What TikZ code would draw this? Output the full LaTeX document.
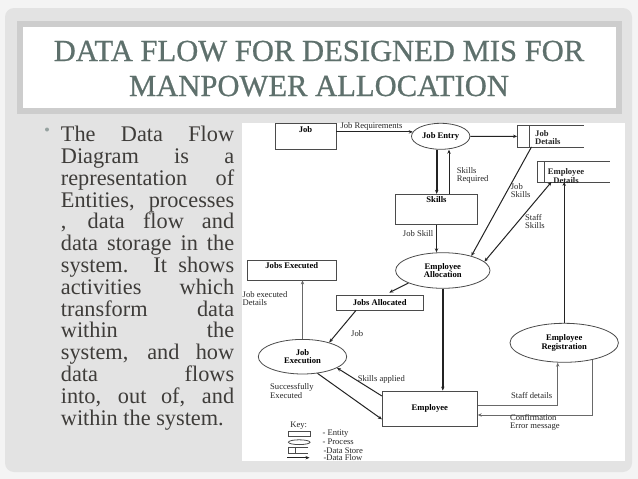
\documentclass[tikz,border=0pt]{standalone}
\usepackage{fontspec}
\setmainfont{Liberation Serif}
\newfontfamily\titlefam{Liberation Serif}[FakeBold=0.7]
\usetikzlibrary{shapes.geometric,arrows.meta}
\definecolor{slidebg}{RGB}{227,227,227}
\definecolor{outerbg}{RGB}{244,244,244}
\definecolor{titlecol}{RGB}{94,112,108}
\definecolor{bodycol}{RGB}{62,60,57}
\definecolor{framecol}{RGB}{205,205,205}
\definecolor{bulletcol}{RGB}{150,162,160}
\definecolor{linecol}{RGB}{35,35,35}
\definecolor{graylinecol}{RGB}{105,105,105}
\definecolor{boxcol}{RGB}{75,75,75}
\newcommand\diagfont{\fontsize{8.6}{7.8}\selectfont}
\newcommand\bodyfont{\fontsize{22.3}{21.8}\selectfont}
\newcommand\titlefont{\titlefam\fontsize{30.6}{35}\selectfont}
\tikzset{
  entity/.style={draw=boxcol, line width=0.8pt, rectangle, inner sep=0pt, font=\diagfont\bfseries},
  process/.style={draw=boxcol, line width=0.8pt, ellipse, inner sep=0pt, font=\diagfont\bfseries, align=center},
  store/.style={inner sep=0pt, rectangle},
  storeline/.style={draw=boxcol, line width=0.8pt},
  flow/.style={draw=linecol, line width=1pt, -{Stealth[length=4pt,width=3.4pt]}},
  thickflow/.style={flow, line width=1.6pt},
  grayflow/.style={flow, draw=graylinecol},
  flowlabel/.style={font=\diagfont, inner sep=0pt, align=left, text=black!85},
  toplabel/.style={font=\diagfont\bfseries, inner sep=0pt, anchor=north},
  titletext/.style={font=\titlefont, text=titlecol, inner sep=0pt, anchor=base},
  bodyline/.style={font=\bodyfont, text=bodycol, inner sep=0pt, anchor=base west},
}
\begin{document}
\begin{tikzpicture}[x=1pt,y=-1pt]
\useasboundingbox (0,0) rectangle (638,479);
\fill[outerbg] (0,0) rectangle (638,479);
\fill[slidebg, rounded corners=9pt] (5,8) rectangle (632,472);
% title box
\fill[framecol] (17,21) rectangle (622,114);
\fill[white] (23,27) rectangle (616,108);
\node[titletext] (t1) at (319,61) {DATA FLOW FOR DESIGNED MIS FOR};
\node[titletext] (t2) at (319,96) {MANPOWER ALLOCATION};
% bullet text
\fill[bulletcol] (47,129.5) circle (2pt);
\node[bodyline] (b1) at (60.7,141.7) {\makebox[173.3pt][s]{The Data Flow}};
\node[bodyline] (b2) at (60.7,163.5) {\makebox[173.3pt][s]{Diagram is a}};
\node[bodyline] (b3) at (60.7,185.3) {\makebox[173.3pt][s]{representation of}};
\node[bodyline] (b4) at (60.7,207.1) {\makebox[173.3pt][s]{Entities, processes}};
\node[bodyline] (b5) at (60.7,228.9) {\makebox[173.3pt][s]{, data flow and}};
\node[bodyline] (b6) at (60.7,250.7) {\makebox[173.3pt][s]{data storage in the}};
\node[bodyline] (b7) at (60.7,272.5) {\makebox[173.3pt][s]{system. It shows}};
\node[bodyline] (b8) at (60.7,294.3) {\makebox[173.3pt][s]{activities which}};
\node[bodyline] (b9) at (60.7,316.1) {\makebox[173.3pt][s]{transform data}};
\node[bodyline] (b10) at (60.7,337.9) {\makebox[173.3pt][s]{within the}};
\node[bodyline] (b11) at (60.7,359.7) {\makebox[173.3pt][s]{system, and how}};
\node[bodyline] (b12) at (60.7,381.5) {\makebox[173.3pt][s]{data flows}};
\node[bodyline] (b13) at (60.7,403.3) {\makebox[173.3pt][s]{into, out of, and}};
\node[bodyline] (b14) at (60.7,425.1) {within the system.};
% diagram area
\fill[white] (241.7,122.7) rectangle (625,460.7);
\begin{scope}
\clip (241.7,122.7) rectangle (625,460.7);
% entities
\node[entity, minimum width=61pt, minimum height=26pt,
  label={[toplabel, yshift=-3pt]north:Job}] (job) at (305.5,136.3) {};
\node[entity, minimum width=81.6pt, minimum height=30pt,
  label={[toplabel, yshift=-2.5pt]north:Skills}] (skills) at (436.5,209.3) {};
\node[entity, minimum width=88.3pt, minimum height=20pt,
  label={[toplabel, yshift=-2.5pt]north:Jobs Executed}] (jobsexec) at (291.8,270) {};
\node[entity, minimum width=87.3pt, minimum height=15pt] (jobsalloc) at (379.7,302.5) {Jobs Allocated};
\node[entity, minimum width=95pt, minimum height=35pt] (employee) at (429.8,408.5) {Employee};
% processes
\node[process, minimum width=58.4pt, minimum height=26pt] (jobentry) at (440.7,136.3) {Job Entry};
\node[process, minimum width=94.4pt, minimum height=35.6pt] (empalloc) at (442.8,270.5) {Employee\\Allocation};
\node[process, minimum width=108.4pt, minimum height=39pt] (empreg) at (564.2,342.8) {Employee\\Registration};
\node[process, minimum width=88.4pt, minimum height=34.6pt] (jobexec) at (302.5,356.7) {Job\\Execution};
% data stores
\node[store, minimum width=66pt, minimum height=20.7pt] (jd) at (550.3,136.35) {};
\draw[storeline] (jd.north east) -- (jd.north west) -- (jd.south west) -- (jd.south east);
\draw[storeline] ([xshift=12pt]jd.north west) -- ([xshift=12pt]jd.south west);
\node[flowlabel, font=\diagfont\bfseries, anchor=west] (jdl) at (535,137.2) {Job\\Details};
\node[store, minimum width=72pt, minimum height=20pt] (ed) at (573.3,171.7) {};
\draw[storeline] (ed.north east) -- (ed.north west) -- (ed.south west) -- (ed.south east);
\draw[storeline] ([xshift=7.4pt]ed.north west) -- ([xshift=7.4pt]ed.south west);
\node[flowlabel, font=\diagfont\bfseries, align=center] (edl) at (566,175.7) {Employee\\Details};
% flows
\draw[flow] (job.east |- jobentry.171) -- (jobentry.171);
\node[flowlabel, anchor=south] (reql) at (371.5,130.5) {Job Requirements};
\draw[flow] (jobentry.east) -- (jd.west);
\draw[thickflow] ([xshift=-4pt]jobentry.south) -- ([xshift=-4pt]jobentry.south |- skills.north);
\draw[flow] ([xshift=8.3pt]jobentry.south |- skills.north) -- ([xshift=8.3pt]jobentry.south);
\node[flowlabel, anchor=west] (skreql) at (456.7,175.7) {Skills\\Required};
\draw[thickflow] (skills.south) -- (skills.south |- empalloc.north);
\node[flowlabel, anchor=east] (jsl) at (433.5,233.3) {Job Skill};
\draw[flow] ([xshift=14.4pt]jd.south west) -- (empalloc.27);
\node[flowlabel, anchor=west] (jskl) at (510.7,190.8) {Job\\Skills};
\draw[flow, {Stealth[length=4pt,width=3.4pt]}-{Stealth[length=4pt,width=3.4pt]}] ([xshift=14.4pt]ed.south west) -- (empalloc.12);
\node[flowlabel, anchor=west] (ssl) at (525,221.2) {Staff\\Skills};
\draw[flow] (empreg.north) -- (empreg.north |- ed.south);
\draw[thickflow] (empalloc.south) -- (empalloc.south |- employee.north);
\draw[flow] (empalloc.200) -- ([xshift=9.6pt, yshift=2pt]jobsalloc.north);
\draw[flow] ([xshift=-23.7pt]jobsalloc.south) -- (jobexec.28);
\node[flowlabel, anchor=west] (jobl) at (351,334) {Job};
\draw[flow, draw=graylinecol] (jobexec.north) -- (jobexec.north |- jobsexec.south);
\node[flowlabel, anchor=west] (jedl) at (242.5,298.7) {Job executed\\Details};
\draw[flow] ([yshift=12.5pt]employee.west) -- (jobexec.-18);
\node[flowlabel] (sal) at (381.3,379.3) {Skills applied};
\draw[flow] (jobexec.-48) -- ([yshift=-10.8pt]employee.west);
\node[flowlabel, anchor=west] (sel) at (270,391.3) {Successfully\\Executed};
\draw[grayflow] ([yshift=3.5pt]employee.east) -| ([xshift=-6.5pt]empreg.south);
\node[flowlabel] (sdl) at (531.7,395.7) {Staff details};
\draw[grayflow] (empreg.-31) |- ([yshift=-6.5pt]employee.east);
\node[flowlabel, anchor=west] (cel) at (510,422.2) {Confirmation\\Error message};
% key
\node[flowlabel] (keyl) at (298.7,425.7) {Key:};
\draw[storeline] (288.3,431) rectangle (310,436.7);
\node[flowlabel, anchor=west] (k1) at (322.3,433.6) {- Entity};
\draw[storeline] (299.2,442.2) ellipse [x radius=10.8pt, y radius=2.4pt];
\node[flowlabel, anchor=west] (k2) at (322.3,442) {- Process};
\draw[storeline] (308.3,447.7) -- (288.3,447.7) -- (288.3,453.3) -- (308.3,453.3);
\draw[storeline] (295,447.7) -- (295,453.3);
\node[flowlabel, anchor=west] (k3) at (323.3,450.2) {-Data Store};
\coordinate (kfa) at (287.3,457.7);
\coordinate (kfb) at (309.5,457.7);
\draw[flow, line width=1.2pt] (kfa) -- (kfb);
\node[flowlabel, anchor=west] (k4) at (323.3,458) {-Data Flow};
\end{scope}
\end{tikzpicture}
\end{document}
